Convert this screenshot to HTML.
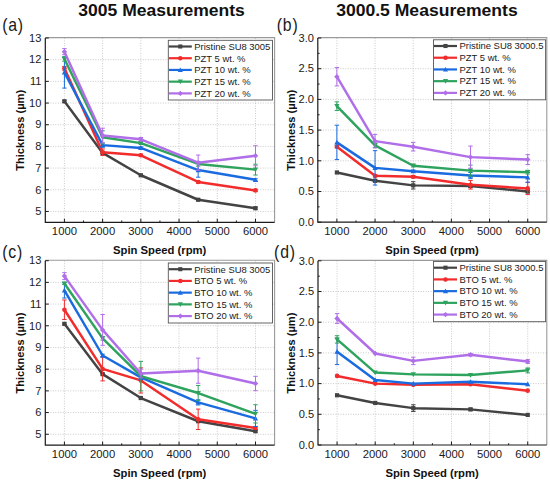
<!DOCTYPE html>
<html><head><meta charset="utf-8"><style>
html,body{margin:0;padding:0;background:#fff;}
svg{display:block;}
</style></head><body>
<svg width="550" height="482" viewBox="0 0 550 482" style="font-family:'Liberation Sans',sans-serif">
<rect width="550" height="482" fill="#fff"/>
<text x="78.3" y="15.5" textLength="166.5" lengthAdjust="spacingAndGlyphs" font-size="17.3" font-weight="bold" font-family="'Liberation Sans', sans-serif" fill="#111">3005 Measurements</text>
<text x="336.2" y="15.5" textLength="181.5" lengthAdjust="spacingAndGlyphs" font-size="17.3" font-weight="bold" font-family="'Liberation Sans', sans-serif" fill="#111">3000.5 Measurements</text>
<text transform="translate(2.2,31.0) scale(0.86,1)" font-size="18.4" letter-spacing="0.9" font-family="'Liberation Sans', sans-serif" fill="#1a1a1a">(a)</text>
<text transform="translate(276.8,30.6) scale(0.86,1)" font-size="18.4" letter-spacing="0.9" font-family="'Liberation Sans', sans-serif" fill="#1a1a1a">(b)</text>
<text transform="translate(2.2,258.4) scale(0.86,1)" font-size="18.4" letter-spacing="0.9" font-family="'Liberation Sans', sans-serif" fill="#1a1a1a">(c)</text>
<text transform="translate(274.1,258.2) scale(0.86,1)" font-size="18.4" letter-spacing="0.9" font-family="'Liberation Sans', sans-serif" fill="#1a1a1a">(d)</text>
<path d="M64.41,38V222.3M102.62,38V222.3M140.84,38V222.3M179.06,38V222.3M217.28,38V222.3M255.49,38V222.3M45.3,211.46H274.6M45.3,189.78H274.6M45.3,168.09H274.6M45.3,146.41H274.6M45.3,124.73H274.6M45.3,103.05H274.6M45.3,81.36H274.6M45.3,59.68H274.6" stroke="#c4c4c4" stroke-width="0.9" stroke-dasharray="1 1.5" fill="none"/>
<path d="M45.3,37.6H274.6V222.3" stroke="#9a9a9a" stroke-width="1.1" fill="none"/>
<path d="M64.41,222.3v-3.5M102.62,222.3v-3.5M140.84,222.3v-3.5M179.06,222.3v-3.5M217.28,222.3v-3.5M255.49,222.3v-3.5M83.52,222.3v-1.8M121.73,222.3v-1.8M159.95,222.3v-1.8M198.17,222.3v-1.8M236.38,222.3v-1.8M45.3,211.46h3.5M45.3,189.78h3.5M45.3,168.09h3.5M45.3,146.41h3.5M45.3,124.73h3.5M45.3,103.05h3.5M45.3,81.36h3.5M45.3,59.68h3.5M45.3,38h3.5" stroke="#1a1a1a" stroke-width="1" fill="none"/>
<path d="M45.3,38V222.3H274.6" stroke="#1a1a1a" stroke-width="1.2" fill="none"/>
<text transform="translate(41.4,215.21) scale(1.065,1)" text-anchor="end" font-size="10.4" font-family="'Liberation Sans', sans-serif" fill="#1a1a1a">5</text>
<text transform="translate(41.4,193.53) scale(1.065,1)" text-anchor="end" font-size="10.4" font-family="'Liberation Sans', sans-serif" fill="#1a1a1a">6</text>
<text transform="translate(41.4,171.84) scale(1.065,1)" text-anchor="end" font-size="10.4" font-family="'Liberation Sans', sans-serif" fill="#1a1a1a">7</text>
<text transform="translate(41.4,150.16) scale(1.065,1)" text-anchor="end" font-size="10.4" font-family="'Liberation Sans', sans-serif" fill="#1a1a1a">8</text>
<text transform="translate(41.4,128.48) scale(1.065,1)" text-anchor="end" font-size="10.4" font-family="'Liberation Sans', sans-serif" fill="#1a1a1a">9</text>
<text transform="translate(41.4,106.8) scale(1.065,1)" text-anchor="end" font-size="10.4" font-family="'Liberation Sans', sans-serif" fill="#1a1a1a">10</text>
<text transform="translate(41.4,85.11) scale(1.065,1)" text-anchor="end" font-size="10.4" font-family="'Liberation Sans', sans-serif" fill="#1a1a1a">11</text>
<text transform="translate(41.4,63.43) scale(1.065,1)" text-anchor="end" font-size="10.4" font-family="'Liberation Sans', sans-serif" fill="#1a1a1a">12</text>
<text transform="translate(41.4,41.75) scale(1.065,1)" text-anchor="end" font-size="10.4" font-family="'Liberation Sans', sans-serif" fill="#1a1a1a">13</text>
<text transform="translate(64.41,235.4) scale(1.065,1)" text-anchor="middle" font-size="10.6" font-family="'Liberation Sans', sans-serif" fill="#1a1a1a">1000</text>
<text transform="translate(102.62,235.4) scale(1.065,1)" text-anchor="middle" font-size="10.6" font-family="'Liberation Sans', sans-serif" fill="#1a1a1a">2000</text>
<text transform="translate(140.84,235.4) scale(1.065,1)" text-anchor="middle" font-size="10.6" font-family="'Liberation Sans', sans-serif" fill="#1a1a1a">3000</text>
<text transform="translate(179.06,235.4) scale(1.065,1)" text-anchor="middle" font-size="10.6" font-family="'Liberation Sans', sans-serif" fill="#1a1a1a">4000</text>
<text transform="translate(217.28,235.4) scale(1.065,1)" text-anchor="middle" font-size="10.6" font-family="'Liberation Sans', sans-serif" fill="#1a1a1a">5000</text>
<text transform="translate(255.49,235.4) scale(1.065,1)" text-anchor="middle" font-size="10.6" font-family="'Liberation Sans', sans-serif" fill="#1a1a1a">6000</text>
<text transform="translate(159.65,253.8) scale(1.066,1)" text-anchor="middle" font-size="10.6" font-weight="bold" font-family="'Liberation Sans', sans-serif" fill="#111">Spin Speed (rpm)</text>
<text transform="translate(23.8,130.35) rotate(-90) scale(1.069,1)" x="0" y="0" text-anchor="middle" font-size="10.4" font-weight="bold" font-family="'Liberation Sans', sans-serif" fill="#111">Thickness (µm)</text>
<path d="M64.41,100.23V102.4M62.21,100.23h4.4M62.21,102.4h4.4M102.62,152.05V153.78M100.42,152.05h4.4M100.42,153.78h4.4M140.84,174.6V175.9M138.64,174.6h4.4M138.64,175.9h4.4M198.17,198.88V200.62M195.97,198.88h4.4M195.97,200.62h4.4M255.49,207.12V209.29M253.29,207.12h4.4M253.29,209.29h4.4" stroke="#434343" stroke-width="1" fill="none"/>
<polyline points="64.41,101.31 102.62,152.92 140.84,175.25 198.17,199.75 255.49,208.21" stroke="#434343" stroke-width="2.45" fill="none" stroke-linejoin="round"/>
<rect x="62.31" y="99.21" width="4.2" height="4.2" fill="#434343"/>
<rect x="100.53" y="150.82" width="4.2" height="4.2" fill="#434343"/>
<rect x="138.74" y="173.15" width="4.2" height="4.2" fill="#434343"/>
<rect x="196.07" y="197.65" width="4.2" height="4.2" fill="#434343"/>
<rect x="253.39" y="206.11" width="4.2" height="4.2" fill="#434343"/>
<path d="M64.41,66.4V70.31M62.21,66.4h4.4M62.21,70.31h4.4M102.62,149.01V155.52M100.42,149.01h4.4M100.42,155.52h4.4M140.84,154.22V156.39M138.64,154.22h4.4M138.64,156.39h4.4M198.17,180.67V183.27M195.97,180.67h4.4M195.97,183.27h4.4M255.49,189.34V191.51M253.29,189.34h4.4M253.29,191.51h4.4" stroke="#f22c2c" stroke-width="1" fill="none"/>
<polyline points="64.41,68.36 102.62,152.27 140.84,155.3 198.17,181.97 255.49,190.43" stroke="#f22c2c" stroke-width="2.45" fill="none" stroke-linejoin="round"/>
<circle cx="64.41" cy="68.36" r="2.31" fill="#f22c2c"/>
<circle cx="102.62" cy="152.27" r="2.31" fill="#f22c2c"/>
<circle cx="140.84" cy="155.3" r="2.31" fill="#f22c2c"/>
<circle cx="198.17" cy="181.97" r="2.31" fill="#f22c2c"/>
<circle cx="255.49" cy="190.43" r="2.31" fill="#f22c2c"/>
<path d="M64.41,56.86V88.09M62.21,56.86h4.4M62.21,88.09h4.4M102.62,142.94V147.28M100.42,142.94h4.4M100.42,147.28h4.4M140.84,146.85V149.01M138.64,146.85h4.4M138.64,149.01h4.4M198.17,162.89V177.2M195.97,162.89h4.4M195.97,177.2h4.4M255.49,178.72V180.89M253.29,178.72h4.4M253.29,180.89h4.4" stroke="#1a6be0" stroke-width="1" fill="none"/>
<polyline points="64.41,72.47 102.62,145.11 140.84,147.93 198.17,170.05 255.49,179.8" stroke="#1a6be0" stroke-width="2.45" fill="none" stroke-linejoin="round"/>
<path d="M64.41,69.85L67.03,74.57L61.78,74.57Z" fill="#1a6be0"/>
<path d="M102.62,142.49L105.25,147.21L100,147.21Z" fill="#1a6be0"/>
<path d="M140.84,145.3L143.47,150.03L138.22,150.03Z" fill="#1a6be0"/>
<path d="M198.17,167.42L200.79,172.15L195.54,172.15Z" fill="#1a6be0"/>
<path d="M255.49,177.18L258.12,181.9L252.87,181.9Z" fill="#1a6be0"/>
<path d="M64.41,56.86V61.2M62.21,56.86h4.4M62.21,61.2h4.4M102.62,130.8V143.81M100.42,130.8h4.4M100.42,143.81h4.4M140.84,141.86V144.46M138.64,141.86h4.4M138.64,144.46h4.4M198.17,161.81V166.14M195.97,161.81h4.4M195.97,166.14h4.4M255.49,164.19V175.03M253.29,164.19h4.4M253.29,175.03h4.4" stroke="#2ea35e" stroke-width="1" fill="none"/>
<polyline points="64.41,59.03 102.62,137.31 140.84,143.16 198.17,163.97 255.49,169.61" stroke="#2ea35e" stroke-width="2.45" fill="none" stroke-linejoin="round"/>
<path d="M64.41,61.66L67.03,56.93L61.78,56.93Z" fill="#2ea35e"/>
<path d="M102.62,139.93L105.25,135.21L100,135.21Z" fill="#2ea35e"/>
<path d="M140.84,145.78L143.47,141.06L138.22,141.06Z" fill="#2ea35e"/>
<path d="M198.17,166.6L200.79,161.87L195.54,161.87Z" fill="#2ea35e"/>
<path d="M255.49,172.24L258.12,167.51L252.87,167.51Z" fill="#2ea35e"/>
<path d="M64.41,48.62V54.7M62.21,48.62h4.4M62.21,54.7h4.4M102.62,128.2V142.94M100.42,128.2h4.4M100.42,142.94h4.4M140.84,137.52V140.99M138.64,137.52h4.4M138.64,140.99h4.4M198.17,155.08V170.26M195.97,155.08h4.4M195.97,170.26h4.4M255.49,145.76V165.71M253.29,145.76h4.4M253.29,165.71h4.4" stroke="#b06ee8" stroke-width="1" fill="none"/>
<polyline points="64.41,51.66 102.62,135.57 140.84,139.26 198.17,162.67 255.49,155.74" stroke="#b06ee8" stroke-width="2.45" fill="none" stroke-linejoin="round"/>
<path d="M64.41,48.93L67.14,51.66L64.41,54.39L61.68,51.66Z" fill="#b06ee8"/>
<path d="M102.62,132.84L105.36,135.57L102.62,138.3L99.89,135.57Z" fill="#b06ee8"/>
<path d="M140.84,136.53L143.57,139.26L140.84,141.99L138.11,139.26Z" fill="#b06ee8"/>
<path d="M198.17,159.94L200.9,162.67L198.17,165.4L195.44,162.67Z" fill="#b06ee8"/>
<path d="M255.49,153.01L258.22,155.74L255.49,158.47L252.76,155.74Z" fill="#b06ee8"/>
<rect x="168.3" y="40.3" width="104.2" height="59.7" fill="#fff" stroke="#555" stroke-width="0.9"/>
<path d="M168.8,46.5H191.8" stroke="#434343" stroke-width="2.2"/>
<rect x="178.25" y="44.45" width="4.1" height="4.1" fill="#434343"/>
<text x="194.3" y="49.8" font-size="9.45" font-family="'Liberation Sans', sans-serif" fill="#1a1a1a">Pristine SU8 3005</text>
<path d="M168.8,58.22H191.8" stroke="#f22c2c" stroke-width="2.2"/>
<circle cx="180.3" cy="58.22" r="2.25" fill="#f22c2c"/>
<text x="194.3" y="61.52" font-size="9.45" font-family="'Liberation Sans', sans-serif" fill="#1a1a1a">PZT 5 wt. %</text>
<path d="M168.8,69.94H191.8" stroke="#1a6be0" stroke-width="2.2"/>
<path d="M180.3,67.38L182.86,71.99L177.74,71.99Z" fill="#1a6be0"/>
<text x="194.3" y="73.24" font-size="9.45" font-family="'Liberation Sans', sans-serif" fill="#1a1a1a">PZT 10 wt. %</text>
<path d="M168.8,81.66H191.8" stroke="#2ea35e" stroke-width="2.2"/>
<path d="M180.3,84.22L182.86,79.61L177.74,79.61Z" fill="#2ea35e"/>
<text x="194.3" y="84.96" font-size="9.45" font-family="'Liberation Sans', sans-serif" fill="#1a1a1a">PZT 15 wt. %</text>
<path d="M168.8,93.38H191.8" stroke="#b06ee8" stroke-width="2.2"/>
<path d="M180.3,90.71L182.97,93.38L180.3,96.05L177.64,93.38Z" fill="#b06ee8"/>
<text x="194.3" y="96.68" font-size="9.45" font-family="'Liberation Sans', sans-serif" fill="#1a1a1a">PZT 20 wt. %</text>
<path d="M336.88,38V222.2M375.05,38V222.2M413.22,38V222.2M451.38,38V222.2M489.55,38V222.2M527.72,38V222.2M317.8,191.5H546.8M317.8,160.8H546.8M317.8,130.1H546.8M317.8,99.4H546.8M317.8,68.7H546.8" stroke="#c4c4c4" stroke-width="0.9" stroke-dasharray="1 1.5" fill="none"/>
<path d="M317.8,37.6H546.8V222.2" stroke="#9a9a9a" stroke-width="1.1" fill="none"/>
<path d="M336.88,222.2v-3.5M375.05,222.2v-3.5M413.22,222.2v-3.5M451.38,222.2v-3.5M489.55,222.2v-3.5M527.72,222.2v-3.5M355.97,222.2v-1.8M394.13,222.2v-1.8M432.3,222.2v-1.8M470.47,222.2v-1.8M508.63,222.2v-1.8M317.8,222.2h3.5M317.8,191.5h3.5M317.8,160.8h3.5M317.8,130.1h3.5M317.8,99.4h3.5M317.8,68.7h3.5M317.8,38h3.5M317.8,206.85h1.8M317.8,176.15h1.8M317.8,145.45h1.8M317.8,114.75h1.8M317.8,84.05h1.8M317.8,53.35h1.8" stroke="#1a1a1a" stroke-width="1" fill="none"/>
<path d="M317.8,38V222.2H546.8" stroke="#1a1a1a" stroke-width="1.2" fill="none"/>
<text transform="translate(313.9,225.95) scale(1.065,1)" text-anchor="end" font-size="10.4" font-family="'Liberation Sans', sans-serif" fill="#1a1a1a">0.0</text>
<text transform="translate(313.9,195.25) scale(1.065,1)" text-anchor="end" font-size="10.4" font-family="'Liberation Sans', sans-serif" fill="#1a1a1a">0.5</text>
<text transform="translate(313.9,164.55) scale(1.065,1)" text-anchor="end" font-size="10.4" font-family="'Liberation Sans', sans-serif" fill="#1a1a1a">1.0</text>
<text transform="translate(313.9,133.85) scale(1.065,1)" text-anchor="end" font-size="10.4" font-family="'Liberation Sans', sans-serif" fill="#1a1a1a">1.5</text>
<text transform="translate(313.9,103.15) scale(1.065,1)" text-anchor="end" font-size="10.4" font-family="'Liberation Sans', sans-serif" fill="#1a1a1a">2.0</text>
<text transform="translate(313.9,72.45) scale(1.065,1)" text-anchor="end" font-size="10.4" font-family="'Liberation Sans', sans-serif" fill="#1a1a1a">2.5</text>
<text transform="translate(313.9,41.75) scale(1.065,1)" text-anchor="end" font-size="10.4" font-family="'Liberation Sans', sans-serif" fill="#1a1a1a">3.0</text>
<text transform="translate(336.88,235.3) scale(1.065,1)" text-anchor="middle" font-size="10.6" font-family="'Liberation Sans', sans-serif" fill="#1a1a1a">1000</text>
<text transform="translate(375.05,235.3) scale(1.065,1)" text-anchor="middle" font-size="10.6" font-family="'Liberation Sans', sans-serif" fill="#1a1a1a">2000</text>
<text transform="translate(413.22,235.3) scale(1.065,1)" text-anchor="middle" font-size="10.6" font-family="'Liberation Sans', sans-serif" fill="#1a1a1a">3000</text>
<text transform="translate(451.38,235.3) scale(1.065,1)" text-anchor="middle" font-size="10.6" font-family="'Liberation Sans', sans-serif" fill="#1a1a1a">4000</text>
<text transform="translate(489.55,235.3) scale(1.065,1)" text-anchor="middle" font-size="10.6" font-family="'Liberation Sans', sans-serif" fill="#1a1a1a">5000</text>
<text transform="translate(527.72,235.3) scale(1.065,1)" text-anchor="middle" font-size="10.6" font-family="'Liberation Sans', sans-serif" fill="#1a1a1a">6000</text>
<text transform="translate(432,253.7) scale(1.066,1)" text-anchor="middle" font-size="10.6" font-weight="bold" font-family="'Liberation Sans', sans-serif" fill="#111">Spin Speed (rpm)</text>
<text transform="translate(294.6,130.3) rotate(-90) scale(1.069,1)" x="0" y="0" text-anchor="middle" font-size="10.4" font-weight="bold" font-family="'Liberation Sans', sans-serif" fill="#111">Thickness (µm)</text>
<path d="M375.05,179.53V181.98M372.85,179.53h4.4M372.85,181.98h4.4M413.22,181.68V189.04M411.02,181.68h4.4M411.02,189.04h4.4M470.47,184.75V187.2M468.27,184.75h4.4M468.27,187.2h4.4M527.72,190.27V192.73M525.52,190.27h4.4M525.52,192.73h4.4" stroke="#434343" stroke-width="1" fill="none"/>
<polyline points="336.88,172.47 375.05,180.75 413.22,185.36 470.47,185.97 527.72,191.5" stroke="#434343" stroke-width="2.45" fill="none" stroke-linejoin="round"/>
<rect x="334.78" y="170.37" width="4.2" height="4.2" fill="#434343"/>
<rect x="372.95" y="178.66" width="4.2" height="4.2" fill="#434343"/>
<rect x="411.12" y="183.26" width="4.2" height="4.2" fill="#434343"/>
<rect x="468.37" y="183.87" width="4.2" height="4.2" fill="#434343"/>
<rect x="525.62" y="189.4" width="4.2" height="4.2" fill="#434343"/>
<path d="M336.88,145.45V147.91M334.68,145.45h4.4M334.68,147.91h4.4M375.05,174.61V177.07M372.85,174.61h4.4M372.85,177.07h4.4M413.22,175.54V177.99M411.02,175.54h4.4M411.02,177.99h4.4M470.47,180.45V189.04M468.27,180.45h4.4M468.27,189.04h4.4M527.72,182.29V194.57M525.52,182.29h4.4M525.52,194.57h4.4" stroke="#f22c2c" stroke-width="1" fill="none"/>
<polyline points="336.88,146.68 375.05,175.84 413.22,176.76 470.47,184.75 527.72,188.43" stroke="#f22c2c" stroke-width="2.45" fill="none" stroke-linejoin="round"/>
<circle cx="336.88" cy="146.68" r="2.31" fill="#f22c2c"/>
<circle cx="375.05" cy="175.84" r="2.31" fill="#f22c2c"/>
<circle cx="413.22" cy="176.76" r="2.31" fill="#f22c2c"/>
<circle cx="470.47" cy="184.75" r="2.31" fill="#f22c2c"/>
<circle cx="527.72" cy="188.43" r="2.31" fill="#f22c2c"/>
<path d="M336.88,125.19V159.57M334.68,125.19h4.4M334.68,159.57h4.4M375.05,150.67V185.05M372.85,150.67h4.4M372.85,185.05h4.4M413.22,170.01V172.47M411.02,170.01h4.4M411.02,172.47h4.4M470.47,172.47V178.61M468.27,172.47h4.4M468.27,178.61h4.4M527.72,172.47V182.29M525.52,172.47h4.4M525.52,182.29h4.4" stroke="#1a6be0" stroke-width="1" fill="none"/>
<polyline points="336.88,142.38 375.05,167.86 413.22,171.24 470.47,175.54 527.72,177.38" stroke="#1a6be0" stroke-width="2.45" fill="none" stroke-linejoin="round"/>
<path d="M336.88,139.75L339.51,144.48L334.26,144.48Z" fill="#1a6be0"/>
<path d="M375.05,165.24L377.68,169.96L372.43,169.96Z" fill="#1a6be0"/>
<path d="M413.22,168.61L415.84,173.34L410.59,173.34Z" fill="#1a6be0"/>
<path d="M470.47,172.91L473.09,177.64L467.84,177.64Z" fill="#1a6be0"/>
<path d="M527.72,174.75L530.34,179.48L525.09,179.48Z" fill="#1a6be0"/>
<path d="M336.88,101.86V110.45M334.68,101.86h4.4M334.68,110.45h4.4M375.05,143.61V147.29M372.85,143.61h4.4M372.85,147.29h4.4M413.22,164.48V166.94M411.02,164.48h4.4M411.02,166.94h4.4M470.47,165.1V176.15M468.27,165.1h4.4M468.27,176.15h4.4M527.72,170.32V174M525.52,170.32h4.4M525.52,174h4.4" stroke="#2ea35e" stroke-width="1" fill="none"/>
<polyline points="336.88,106.15 375.05,145.45 413.22,165.71 470.47,170.62 527.72,172.16" stroke="#2ea35e" stroke-width="2.45" fill="none" stroke-linejoin="round"/>
<path d="M336.88,108.78L339.51,104.05L334.26,104.05Z" fill="#2ea35e"/>
<path d="M375.05,148.07L377.68,143.35L372.43,143.35Z" fill="#2ea35e"/>
<path d="M413.22,168.34L415.84,163.61L410.59,163.61Z" fill="#2ea35e"/>
<path d="M470.47,173.25L473.09,168.52L467.84,168.52Z" fill="#2ea35e"/>
<path d="M527.72,174.78L530.34,170.06L525.09,170.06Z" fill="#2ea35e"/>
<path d="M336.88,67.47V85.89M334.68,67.47h4.4M334.68,85.89h4.4M375.05,134.4V147.91M372.85,134.4h4.4M372.85,147.91h4.4M413.22,142.38V150.98M411.02,142.38h4.4M411.02,150.98h4.4M470.47,146.06V168.17M468.27,146.06h4.4M468.27,168.17h4.4M527.72,154.66V164.48M525.52,154.66h4.4M525.52,164.48h4.4" stroke="#b06ee8" stroke-width="1" fill="none"/>
<polyline points="336.88,76.68 375.05,141.15 413.22,146.68 470.47,157.12 527.72,159.57" stroke="#b06ee8" stroke-width="2.45" fill="none" stroke-linejoin="round"/>
<path d="M336.88,73.95L339.61,76.68L336.88,79.41L334.15,76.68Z" fill="#b06ee8"/>
<path d="M375.05,138.42L377.78,141.15L375.05,143.88L372.32,141.15Z" fill="#b06ee8"/>
<path d="M413.22,143.95L415.95,146.68L413.22,149.41L410.49,146.68Z" fill="#b06ee8"/>
<path d="M470.47,154.39L473.2,157.12L470.47,159.85L467.74,157.12Z" fill="#b06ee8"/>
<path d="M527.72,156.84L530.45,159.57L527.72,162.3L524.99,159.57Z" fill="#b06ee8"/>
<rect x="433.5" y="39.8" width="112.1" height="60" fill="#fff" stroke="#555" stroke-width="0.9"/>
<path d="M434,46H457" stroke="#434343" stroke-width="2.2"/>
<rect x="443.45" y="43.95" width="4.1" height="4.1" fill="#434343"/>
<text x="459.5" y="49.3" font-size="9.45" font-family="'Liberation Sans', sans-serif" fill="#1a1a1a">Pristine SU8 3000.5</text>
<path d="M434,57.72H457" stroke="#f22c2c" stroke-width="2.2"/>
<circle cx="445.5" cy="57.72" r="2.25" fill="#f22c2c"/>
<text x="459.5" y="61.02" font-size="9.45" font-family="'Liberation Sans', sans-serif" fill="#1a1a1a">PZT 5 wt. %</text>
<path d="M434,69.44H457" stroke="#1a6be0" stroke-width="2.2"/>
<path d="M445.5,66.88L448.06,71.49L442.94,71.49Z" fill="#1a6be0"/>
<text x="459.5" y="72.74" font-size="9.45" font-family="'Liberation Sans', sans-serif" fill="#1a1a1a">PZT 10 wt. %</text>
<path d="M434,81.16H457" stroke="#2ea35e" stroke-width="2.2"/>
<path d="M445.5,83.72L448.06,79.11L442.94,79.11Z" fill="#2ea35e"/>
<text x="459.5" y="84.46" font-size="9.45" font-family="'Liberation Sans', sans-serif" fill="#1a1a1a">PZT 15 wt. %</text>
<path d="M434,92.88H457" stroke="#b06ee8" stroke-width="2.2"/>
<path d="M445.5,90.21L448.17,92.88L445.5,95.55L442.83,92.88Z" fill="#b06ee8"/>
<text x="459.5" y="96.18" font-size="9.45" font-family="'Liberation Sans', sans-serif" fill="#1a1a1a">PZT 20 wt. %</text>
<path d="M64.41,260.7V445.1M102.62,260.7V445.1M140.84,260.7V445.1M179.06,260.7V445.1M217.28,260.7V445.1M255.49,260.7V445.1M45.3,434.25H274.6M45.3,412.56H274.6M45.3,390.86H274.6M45.3,369.17H274.6M45.3,347.48H274.6M45.3,325.78H274.6M45.3,304.09H274.6M45.3,282.39H274.6" stroke="#c4c4c4" stroke-width="0.9" stroke-dasharray="1 1.5" fill="none"/>
<path d="M45.3,260.3H274.6V445.1" stroke="#9a9a9a" stroke-width="1.1" fill="none"/>
<path d="M64.41,445.1v-3.5M102.62,445.1v-3.5M140.84,445.1v-3.5M179.06,445.1v-3.5M217.28,445.1v-3.5M255.49,445.1v-3.5M83.52,445.1v-1.8M121.73,445.1v-1.8M159.95,445.1v-1.8M198.17,445.1v-1.8M236.38,445.1v-1.8M45.3,434.25h3.5M45.3,412.56h3.5M45.3,390.86h3.5M45.3,369.17h3.5M45.3,347.48h3.5M45.3,325.78h3.5M45.3,304.09h3.5M45.3,282.39h3.5M45.3,260.7h3.5" stroke="#1a1a1a" stroke-width="1" fill="none"/>
<path d="M45.3,260.7V445.1H274.6" stroke="#1a1a1a" stroke-width="1.2" fill="none"/>
<text transform="translate(41.4,438) scale(1.065,1)" text-anchor="end" font-size="10.4" font-family="'Liberation Sans', sans-serif" fill="#1a1a1a">5</text>
<text transform="translate(41.4,416.31) scale(1.065,1)" text-anchor="end" font-size="10.4" font-family="'Liberation Sans', sans-serif" fill="#1a1a1a">6</text>
<text transform="translate(41.4,394.61) scale(1.065,1)" text-anchor="end" font-size="10.4" font-family="'Liberation Sans', sans-serif" fill="#1a1a1a">7</text>
<text transform="translate(41.4,372.92) scale(1.065,1)" text-anchor="end" font-size="10.4" font-family="'Liberation Sans', sans-serif" fill="#1a1a1a">8</text>
<text transform="translate(41.4,351.23) scale(1.065,1)" text-anchor="end" font-size="10.4" font-family="'Liberation Sans', sans-serif" fill="#1a1a1a">9</text>
<text transform="translate(41.4,329.53) scale(1.065,1)" text-anchor="end" font-size="10.4" font-family="'Liberation Sans', sans-serif" fill="#1a1a1a">10</text>
<text transform="translate(41.4,307.84) scale(1.065,1)" text-anchor="end" font-size="10.4" font-family="'Liberation Sans', sans-serif" fill="#1a1a1a">11</text>
<text transform="translate(41.4,286.14) scale(1.065,1)" text-anchor="end" font-size="10.4" font-family="'Liberation Sans', sans-serif" fill="#1a1a1a">12</text>
<text transform="translate(41.4,264.45) scale(1.065,1)" text-anchor="end" font-size="10.4" font-family="'Liberation Sans', sans-serif" fill="#1a1a1a">13</text>
<text transform="translate(64.41,458.2) scale(1.065,1)" text-anchor="middle" font-size="10.6" font-family="'Liberation Sans', sans-serif" fill="#1a1a1a">1000</text>
<text transform="translate(102.62,458.2) scale(1.065,1)" text-anchor="middle" font-size="10.6" font-family="'Liberation Sans', sans-serif" fill="#1a1a1a">2000</text>
<text transform="translate(140.84,458.2) scale(1.065,1)" text-anchor="middle" font-size="10.6" font-family="'Liberation Sans', sans-serif" fill="#1a1a1a">3000</text>
<text transform="translate(179.06,458.2) scale(1.065,1)" text-anchor="middle" font-size="10.6" font-family="'Liberation Sans', sans-serif" fill="#1a1a1a">4000</text>
<text transform="translate(217.28,458.2) scale(1.065,1)" text-anchor="middle" font-size="10.6" font-family="'Liberation Sans', sans-serif" fill="#1a1a1a">5000</text>
<text transform="translate(255.49,458.2) scale(1.065,1)" text-anchor="middle" font-size="10.6" font-family="'Liberation Sans', sans-serif" fill="#1a1a1a">6000</text>
<text transform="translate(159.65,476.6) scale(1.066,1)" text-anchor="middle" font-size="10.6" font-weight="bold" font-family="'Liberation Sans', sans-serif" fill="#111">Spin Speed (rpm)</text>
<text transform="translate(23.8,353.1) rotate(-90) scale(1.069,1)" x="0" y="0" text-anchor="middle" font-size="10.4" font-weight="bold" font-family="'Liberation Sans', sans-serif" fill="#111">Thickness (µm)</text>
<path d="M64.41,322.96V324.7M62.21,322.96h4.4M62.21,324.7h4.4M102.62,373.29V375.03M100.42,373.29h4.4M100.42,375.03h4.4M140.84,397.16V398.89M138.64,397.16h4.4M138.64,398.89h4.4M198.17,420.37V422.1M195.97,420.37h4.4M195.97,422.1h4.4M255.49,430.35V432.08M253.29,430.35h4.4M253.29,432.08h4.4" stroke="#434343" stroke-width="1" fill="none"/>
<polyline points="64.41,323.83 102.62,374.16 140.84,398.02 198.17,421.24 255.49,431.22" stroke="#434343" stroke-width="2.45" fill="none" stroke-linejoin="round"/>
<rect x="62.31" y="321.73" width="4.2" height="4.2" fill="#434343"/>
<rect x="100.53" y="372.06" width="4.2" height="4.2" fill="#434343"/>
<rect x="138.74" y="395.92" width="4.2" height="4.2" fill="#434343"/>
<rect x="196.07" y="419.14" width="4.2" height="4.2" fill="#434343"/>
<rect x="253.39" y="429.12" width="4.2" height="4.2" fill="#434343"/>
<path d="M64.41,299.97V319.49M62.21,299.97h4.4M62.21,319.49h4.4M102.62,357.02V380.89M100.42,357.02h4.4M100.42,380.89h4.4M140.84,367.87V393.03M138.64,367.87h4.4M138.64,393.03h4.4M198.17,409.09V429.48M195.97,409.09h4.4M195.97,429.48h4.4M255.49,426.66V429.26M253.29,426.66h4.4M253.29,429.26h4.4" stroke="#f22c2c" stroke-width="1" fill="none"/>
<polyline points="64.41,309.73 102.62,368.95 140.84,380.45 198.17,419.28 255.49,427.96" stroke="#f22c2c" stroke-width="2.45" fill="none" stroke-linejoin="round"/>
<circle cx="64.41" cy="309.73" r="2.31" fill="#f22c2c"/>
<circle cx="102.62" cy="368.95" r="2.31" fill="#f22c2c"/>
<circle cx="140.84" cy="380.45" r="2.31" fill="#f22c2c"/>
<circle cx="198.17" cy="419.28" r="2.31" fill="#f22c2c"/>
<circle cx="255.49" cy="427.96" r="2.31" fill="#f22c2c"/>
<path d="M64.41,282.83V298.01M62.21,282.83h4.4M62.21,298.01h4.4M102.62,354.2V356.8M100.42,354.2h4.4M100.42,356.8h4.4M140.84,375.24V379.58M138.64,375.24h4.4M138.64,379.58h4.4M198.17,399.76V404.97M195.97,399.76h4.4M195.97,404.97h4.4M255.49,410.39V426.44M253.29,410.39h4.4M253.29,426.44h4.4" stroke="#1a6be0" stroke-width="1" fill="none"/>
<polyline points="64.41,290.42 102.62,355.5 140.84,377.41 198.17,402.36 255.49,418.42" stroke="#1a6be0" stroke-width="2.45" fill="none" stroke-linejoin="round"/>
<path d="M64.41,287.8L67.03,292.52L61.78,292.52Z" fill="#1a6be0"/>
<path d="M102.62,352.88L105.25,357.6L100,357.6Z" fill="#1a6be0"/>
<path d="M140.84,374.79L143.47,379.51L138.22,379.51Z" fill="#1a6be0"/>
<path d="M198.17,399.74L200.79,404.46L195.54,404.46Z" fill="#1a6be0"/>
<path d="M255.49,415.79L258.12,420.52L252.87,420.52Z" fill="#1a6be0"/>
<path d="M64.41,282.39V284.56M62.21,282.39h4.4M62.21,284.56h4.4M102.62,336.63V340.1M100.42,336.63h4.4M100.42,340.1h4.4M140.84,361.36V390.86M138.64,361.36h4.4M138.64,390.86h4.4M198.17,385.44V400.63M195.97,385.44h4.4M195.97,400.63h4.4M255.49,404.75V422.97M253.29,404.75h4.4M253.29,422.97h4.4" stroke="#2ea35e" stroke-width="1" fill="none"/>
<polyline points="64.41,283.48 102.62,338.36 140.84,376.11 198.17,393.03 255.49,413.86" stroke="#2ea35e" stroke-width="2.45" fill="none" stroke-linejoin="round"/>
<path d="M64.41,286.1L67.03,281.38L61.78,281.38Z" fill="#2ea35e"/>
<path d="M102.62,340.99L105.25,336.26L100,336.26Z" fill="#2ea35e"/>
<path d="M140.84,378.74L143.47,374.01L138.22,374.01Z" fill="#2ea35e"/>
<path d="M198.17,395.66L200.79,390.93L195.54,390.93Z" fill="#2ea35e"/>
<path d="M255.49,416.49L258.12,411.76L252.87,411.76Z" fill="#2ea35e"/>
<path d="M64.41,272.63V279.57M62.21,272.63h4.4M62.21,279.57h4.4M102.62,314.5V345.31M100.42,314.5h4.4M100.42,345.31h4.4M140.84,369.17V377.85M138.64,369.17h4.4M138.64,377.85h4.4M198.17,358.11V383.27M195.97,358.11h4.4M195.97,383.27h4.4M255.49,376.33V390.65M253.29,376.33h4.4M253.29,390.65h4.4" stroke="#b06ee8" stroke-width="1" fill="none"/>
<polyline points="64.41,276.1 102.62,329.9 140.84,373.51 198.17,370.69 255.49,383.49" stroke="#b06ee8" stroke-width="2.45" fill="none" stroke-linejoin="round"/>
<path d="M64.41,273.37L67.14,276.1L64.41,278.83L61.68,276.1Z" fill="#b06ee8"/>
<path d="M102.62,327.17L105.36,329.9L102.62,332.63L99.89,329.9Z" fill="#b06ee8"/>
<path d="M140.84,370.78L143.57,373.51L140.84,376.24L138.11,373.51Z" fill="#b06ee8"/>
<path d="M198.17,367.96L200.9,370.69L198.17,373.42L195.44,370.69Z" fill="#b06ee8"/>
<path d="M255.49,380.76L258.22,383.49L255.49,386.22L252.76,383.49Z" fill="#b06ee8"/>
<rect x="168.3" y="263" width="104.2" height="60" fill="#fff" stroke="#555" stroke-width="0.9"/>
<path d="M168.8,269.2H191.8" stroke="#434343" stroke-width="2.2"/>
<rect x="178.25" y="267.15" width="4.1" height="4.1" fill="#434343"/>
<text x="194.3" y="272.5" font-size="9.45" font-family="'Liberation Sans', sans-serif" fill="#1a1a1a">Pristine SU8 3005</text>
<path d="M168.8,280.92H191.8" stroke="#f22c2c" stroke-width="2.2"/>
<circle cx="180.3" cy="280.92" r="2.25" fill="#f22c2c"/>
<text x="194.3" y="284.22" font-size="9.45" font-family="'Liberation Sans', sans-serif" fill="#1a1a1a">BTO 5 wt. %</text>
<path d="M168.8,292.64H191.8" stroke="#1a6be0" stroke-width="2.2"/>
<path d="M180.3,290.08L182.86,294.69L177.74,294.69Z" fill="#1a6be0"/>
<text x="194.3" y="295.94" font-size="9.45" font-family="'Liberation Sans', sans-serif" fill="#1a1a1a">BTO 10 wt. %</text>
<path d="M168.8,304.36H191.8" stroke="#2ea35e" stroke-width="2.2"/>
<path d="M180.3,306.92L182.86,302.31L177.74,302.31Z" fill="#2ea35e"/>
<text x="194.3" y="307.66" font-size="9.45" font-family="'Liberation Sans', sans-serif" fill="#1a1a1a">BTO 15 wt. %</text>
<path d="M168.8,316.08H191.8" stroke="#b06ee8" stroke-width="2.2"/>
<path d="M180.3,313.41L182.97,316.08L180.3,318.75L177.64,316.08Z" fill="#b06ee8"/>
<text x="194.3" y="319.38" font-size="9.45" font-family="'Liberation Sans', sans-serif" fill="#1a1a1a">BTO 20 wt. %</text>
<path d="M337.07,260.8V445M375.2,260.8V445M413.33,260.8V445M451.47,260.8V445M489.6,260.8V445M527.73,260.8V445M318,414.3H546.8M318,383.6H546.8M318,352.9H546.8M318,322.2H546.8M318,291.5H546.8" stroke="#c4c4c4" stroke-width="0.9" stroke-dasharray="1 1.5" fill="none"/>
<path d="M318,260.4H546.8V445" stroke="#9a9a9a" stroke-width="1.1" fill="none"/>
<path d="M337.07,445v-3.5M375.2,445v-3.5M413.33,445v-3.5M451.47,445v-3.5M489.6,445v-3.5M527.73,445v-3.5M356.13,445v-1.8M394.27,445v-1.8M432.4,445v-1.8M470.53,445v-1.8M508.67,445v-1.8M318,445h3.5M318,414.3h3.5M318,383.6h3.5M318,352.9h3.5M318,322.2h3.5M318,291.5h3.5M318,260.8h3.5M318,429.65h1.8M318,398.95h1.8M318,368.25h1.8M318,337.55h1.8M318,306.85h1.8M318,276.15h1.8" stroke="#1a1a1a" stroke-width="1" fill="none"/>
<path d="M318,260.8V445H546.8" stroke="#1a1a1a" stroke-width="1.2" fill="none"/>
<text transform="translate(314.1,448.75) scale(1.065,1)" text-anchor="end" font-size="10.4" font-family="'Liberation Sans', sans-serif" fill="#1a1a1a">0.0</text>
<text transform="translate(314.1,418.05) scale(1.065,1)" text-anchor="end" font-size="10.4" font-family="'Liberation Sans', sans-serif" fill="#1a1a1a">0.5</text>
<text transform="translate(314.1,387.35) scale(1.065,1)" text-anchor="end" font-size="10.4" font-family="'Liberation Sans', sans-serif" fill="#1a1a1a">1.0</text>
<text transform="translate(314.1,356.65) scale(1.065,1)" text-anchor="end" font-size="10.4" font-family="'Liberation Sans', sans-serif" fill="#1a1a1a">1.5</text>
<text transform="translate(314.1,325.95) scale(1.065,1)" text-anchor="end" font-size="10.4" font-family="'Liberation Sans', sans-serif" fill="#1a1a1a">2.0</text>
<text transform="translate(314.1,295.25) scale(1.065,1)" text-anchor="end" font-size="10.4" font-family="'Liberation Sans', sans-serif" fill="#1a1a1a">2.5</text>
<text transform="translate(314.1,264.55) scale(1.065,1)" text-anchor="end" font-size="10.4" font-family="'Liberation Sans', sans-serif" fill="#1a1a1a">3.0</text>
<text transform="translate(337.07,458.1) scale(1.065,1)" text-anchor="middle" font-size="10.6" font-family="'Liberation Sans', sans-serif" fill="#1a1a1a">1000</text>
<text transform="translate(375.2,458.1) scale(1.065,1)" text-anchor="middle" font-size="10.6" font-family="'Liberation Sans', sans-serif" fill="#1a1a1a">2000</text>
<text transform="translate(413.33,458.1) scale(1.065,1)" text-anchor="middle" font-size="10.6" font-family="'Liberation Sans', sans-serif" fill="#1a1a1a">3000</text>
<text transform="translate(451.47,458.1) scale(1.065,1)" text-anchor="middle" font-size="10.6" font-family="'Liberation Sans', sans-serif" fill="#1a1a1a">4000</text>
<text transform="translate(489.6,458.1) scale(1.065,1)" text-anchor="middle" font-size="10.6" font-family="'Liberation Sans', sans-serif" fill="#1a1a1a">5000</text>
<text transform="translate(527.73,458.1) scale(1.065,1)" text-anchor="middle" font-size="10.6" font-family="'Liberation Sans', sans-serif" fill="#1a1a1a">6000</text>
<text transform="translate(432.1,476.5) scale(1.066,1)" text-anchor="middle" font-size="10.6" font-weight="bold" font-family="'Liberation Sans', sans-serif" fill="#111">Spin Speed (rpm)</text>
<text transform="translate(294.8,353.1) rotate(-90) scale(1.069,1)" x="0" y="0" text-anchor="middle" font-size="10.4" font-weight="bold" font-family="'Liberation Sans', sans-serif" fill="#111">Thickness (µm)</text>
<path d="M413.33,404.78V411.54M411.13,404.78h4.4M411.13,411.54h4.4M470.53,408.16V410.62M468.33,408.16h4.4M468.33,410.62h4.4" stroke="#434343" stroke-width="1" fill="none"/>
<polyline points="337.07,395.27 375.2,402.94 413.33,408.16 470.53,409.39 527.73,414.91" stroke="#434343" stroke-width="2.45" fill="none" stroke-linejoin="round"/>
<rect x="334.97" y="393.17" width="4.2" height="4.2" fill="#434343"/>
<rect x="373.1" y="400.84" width="4.2" height="4.2" fill="#434343"/>
<rect x="411.23" y="406.06" width="4.2" height="4.2" fill="#434343"/>
<rect x="468.43" y="407.29" width="4.2" height="4.2" fill="#434343"/>
<rect x="525.63" y="412.81" width="4.2" height="4.2" fill="#434343"/>
<path d="" stroke="#f22c2c" stroke-width="1" fill="none"/>
<polyline points="337.07,375.93 375.2,383.6 413.33,384.83 470.53,384.21 527.73,390.66" stroke="#f22c2c" stroke-width="2.45" fill="none" stroke-linejoin="round"/>
<circle cx="337.07" cy="375.93" r="2.31" fill="#f22c2c"/>
<circle cx="375.2" cy="383.6" r="2.31" fill="#f22c2c"/>
<circle cx="413.33" cy="384.83" r="2.31" fill="#f22c2c"/>
<circle cx="470.53" cy="384.21" r="2.31" fill="#f22c2c"/>
<circle cx="527.73" cy="390.66" r="2.31" fill="#f22c2c"/>
<path d="M337.07,338.78V364.57M334.87,338.78h4.4M334.87,364.57h4.4" stroke="#1a6be0" stroke-width="1" fill="none"/>
<polyline points="337.07,351.67 375.2,379.92 413.33,383.6 470.53,381.76 527.73,384.21" stroke="#1a6be0" stroke-width="2.45" fill="none" stroke-linejoin="round"/>
<path d="M337.07,349.05L339.69,353.77L334.44,353.77Z" fill="#1a6be0"/>
<path d="M375.2,377.29L377.82,382.02L372.57,382.02Z" fill="#1a6be0"/>
<path d="M413.33,380.98L415.96,385.7L410.71,385.7Z" fill="#1a6be0"/>
<path d="M470.53,379.13L473.16,383.86L467.91,383.86Z" fill="#1a6be0"/>
<path d="M527.73,381.59L530.36,386.31L525.11,386.31Z" fill="#1a6be0"/>
<path d="M337.07,335.71V343.08M334.87,335.71h4.4M334.87,343.08h4.4M527.73,367.94V372.86M525.53,367.94h4.4M525.53,372.86h4.4" stroke="#2ea35e" stroke-width="1" fill="none"/>
<polyline points="337.07,339.39 375.2,372.55 413.33,374.39 470.53,375 527.73,370.4" stroke="#2ea35e" stroke-width="2.45" fill="none" stroke-linejoin="round"/>
<path d="M337.07,342.02L339.69,337.29L334.44,337.29Z" fill="#2ea35e"/>
<path d="M375.2,375.17L377.82,370.45L372.57,370.45Z" fill="#2ea35e"/>
<path d="M413.33,377.01L415.96,372.29L410.71,372.29Z" fill="#2ea35e"/>
<path d="M470.53,377.63L473.16,372.9L467.91,372.9Z" fill="#2ea35e"/>
<path d="M527.73,373.02L530.36,368.3L525.11,368.3Z" fill="#2ea35e"/>
<path d="M337.07,313.6V323.43M334.87,313.6h4.4M334.87,323.43h4.4M413.33,357.2V364.57M411.13,357.2h4.4M411.13,364.57h4.4M470.53,353.51V355.97M468.33,353.51h4.4M468.33,355.97h4.4M527.73,359.65V363.34M525.53,359.65h4.4M525.53,363.34h4.4" stroke="#b06ee8" stroke-width="1" fill="none"/>
<polyline points="337.07,318.52 375.2,353.51 413.33,360.88 470.53,354.74 527.73,361.5" stroke="#b06ee8" stroke-width="2.45" fill="none" stroke-linejoin="round"/>
<path d="M337.07,315.79L339.8,318.52L337.07,321.25L334.34,318.52Z" fill="#b06ee8"/>
<path d="M375.2,350.78L377.93,353.51L375.2,356.24L372.47,353.51Z" fill="#b06ee8"/>
<path d="M413.33,358.15L416.06,360.88L413.33,363.61L410.6,360.88Z" fill="#b06ee8"/>
<path d="M470.53,352.01L473.26,354.74L470.53,357.47L467.8,354.74Z" fill="#b06ee8"/>
<path d="M527.73,358.77L530.46,361.5L527.73,364.23L525,361.5Z" fill="#b06ee8"/>
<rect x="433.5" y="261.5" width="112.1" height="60.2" fill="#fff" stroke="#555" stroke-width="0.9"/>
<path d="M434,267.7H457" stroke="#434343" stroke-width="2.2"/>
<rect x="443.45" y="265.65" width="4.1" height="4.1" fill="#434343"/>
<text x="459.5" y="271" font-size="9.45" font-family="'Liberation Sans', sans-serif" fill="#1a1a1a">Pristine SU8 3000.5</text>
<path d="M434,279.42H457" stroke="#f22c2c" stroke-width="2.2"/>
<circle cx="445.5" cy="279.42" r="2.25" fill="#f22c2c"/>
<text x="459.5" y="282.72" font-size="9.45" font-family="'Liberation Sans', sans-serif" fill="#1a1a1a">BTO 5 wt. %</text>
<path d="M434,291.14H457" stroke="#1a6be0" stroke-width="2.2"/>
<path d="M445.5,288.58L448.06,293.19L442.94,293.19Z" fill="#1a6be0"/>
<text x="459.5" y="294.44" font-size="9.45" font-family="'Liberation Sans', sans-serif" fill="#1a1a1a">BTO 10 wt. %</text>
<path d="M434,302.86H457" stroke="#2ea35e" stroke-width="2.2"/>
<path d="M445.5,305.42L448.06,300.81L442.94,300.81Z" fill="#2ea35e"/>
<text x="459.5" y="306.16" font-size="9.45" font-family="'Liberation Sans', sans-serif" fill="#1a1a1a">BTO 15 wt. %</text>
<path d="M434,314.58H457" stroke="#b06ee8" stroke-width="2.2"/>
<path d="M445.5,311.91L448.17,314.58L445.5,317.25L442.83,314.58Z" fill="#b06ee8"/>
<text x="459.5" y="317.88" font-size="9.45" font-family="'Liberation Sans', sans-serif" fill="#1a1a1a">BTO 20 wt. %</text>
</svg>
</body></html>
